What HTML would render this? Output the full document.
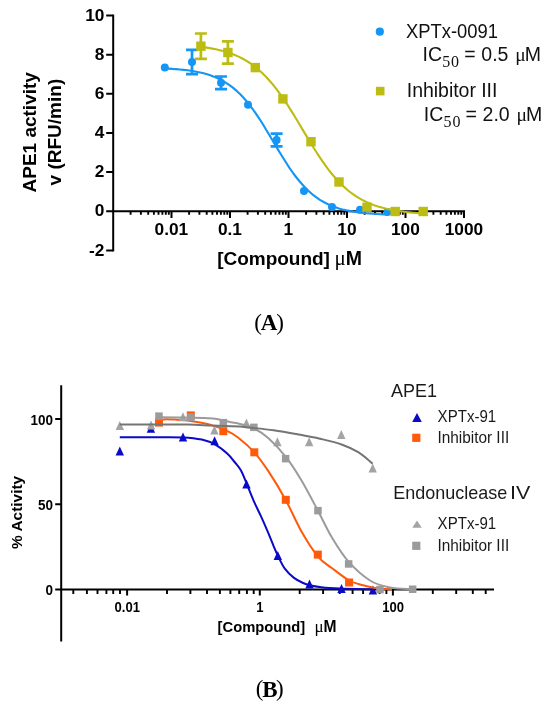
<!DOCTYPE html>
<html><head><meta charset="utf-8"><title>Figure</title>
<style>html,body{margin:0;padding:0;background:#fff}svg{display:block}</style>
</head><body>
<svg width="550" height="711" viewBox="0 0 550 711">
<rect width="550" height="711" fill="#fff"/>
<g stroke="#000" stroke-width="2" fill="none" stroke-linecap="butt">
<path d="M113.2 14.6 V251.4"/>
<path d="M112.2 211.2 H465"/>
<path d="M106.2 15.6 H113.2M106.2 54.7 H113.2M106.2 93.8 H113.2M106.2 133 H113.2M106.2 172.1 H113.2M106.2 211.2 H113.2M106.2 250.4 H113.2"/>
<path d="M171.5 211.2 V218.1M230 211.2 V218.1M288.5 211.2 V218.1M347 211.2 V218.1M405.5 211.2 V218.1M464 211.2 V218.1"/>
</g>
<path d="M130.6 211.2 V214.8M140.9 211.2 V214.8M148.2 211.2 V214.8M153.9 211.2 V214.8M158.5 211.2 V214.8M162.4 211.2 V214.8M165.8 211.2 V214.8M168.8 211.2 V214.8M189.1 211.2 V214.8M199.4 211.2 V214.8M206.7 211.2 V214.8M212.4 211.2 V214.8M217 211.2 V214.8M220.9 211.2 V214.8M224.3 211.2 V214.8M227.3 211.2 V214.8M247.6 211.2 V214.8M257.9 211.2 V214.8M265.2 211.2 V214.8M270.9 211.2 V214.8M275.5 211.2 V214.8M279.4 211.2 V214.8M282.8 211.2 V214.8M285.8 211.2 V214.8M306.1 211.2 V214.8M316.4 211.2 V214.8M323.7 211.2 V214.8M329.4 211.2 V214.8M334 211.2 V214.8M337.9 211.2 V214.8M341.3 211.2 V214.8M344.3 211.2 V214.8M364.6 211.2 V214.8M374.9 211.2 V214.8M382.2 211.2 V214.8M387.9 211.2 V214.8M392.5 211.2 V214.8M396.4 211.2 V214.8M399.8 211.2 V214.8M402.8 211.2 V214.8M423.1 211.2 V214.8M433.4 211.2 V214.8M440.7 211.2 V214.8M446.4 211.2 V214.8M451 211.2 V214.8M454.9 211.2 V214.8M458.3 211.2 V214.8M461.3 211.2 V214.8" stroke="#000" stroke-width="1.9" fill="none"/>
<g font-family="'Liberation Sans',Arial,sans-serif" font-weight="bold" font-size="17.3" fill="#000">
<text x="104.4" y="20.7" text-anchor="end">10</text>
<text x="104.4" y="59.8" text-anchor="end">8</text>
<text x="104.4" y="98.9" text-anchor="end">6</text>
<text x="104.4" y="138.1" text-anchor="end">4</text>
<text x="104.4" y="177.2" text-anchor="end">2</text>
<text x="104.4" y="216.3" text-anchor="end">0</text>
<text x="104.4" y="255.5" text-anchor="end">-2</text>
<text x="171.4" y="235.4" text-anchor="middle">0.01</text>
<text x="229.9" y="235.4" text-anchor="middle">0.1</text>
<text x="288.4" y="235.4" text-anchor="middle">1</text>
<text x="346.9" y="235.4" text-anchor="middle">10</text>
<text x="405.4" y="235.4" text-anchor="middle">100</text>
<text x="463.9" y="235.4" text-anchor="middle">1000</text>
</g>
<g font-family="'Liberation Sans',Arial,sans-serif" font-weight="bold" font-size="18.5" fill="#000">
<text x="217.3" y="265.2" font-size="19" textLength="112.6">[Compound]</text><text x="334.6" y="265.2" font-family="'Liberation Serif',serif" font-weight="normal" font-size="21">μ</text><text x="345.8" y="265.2" font-size="19.5">M</text>
</g>
<g font-family="'Liberation Sans',Arial,sans-serif" font-weight="bold" font-size="19" fill="#000" text-anchor="middle">
<text transform="translate(36.3 132.3) scale(1 1) rotate(-90)">APE1 activity</text>
<text transform="translate(61.1 132.1) scale(1 1) rotate(-90)">v (RFU/min)</text>
</g>
<path d="M164.8 68.5 L168.6 68.6 L172.4 68.9 L176.1 69.1 L179.9 69.5 L183.7 69.9 L187.5 70.3 L191.3 70.8 L195.1 71.5 L198.8 72.2 L202.6 73.1 L206.4 74.1 L210.2 75.3 L214 76.7 L217.8 78.3 L221.5 80.2 L225.3 82.3 L229.1 84.8 L232.9 87.6 L236.7 90.9 L240.5 94.5 L244.2 98.5 L248 103 L251.8 107.9 L255.6 113.2 L259.4 118.8 L263.2 124.8 L266.9 131 L270.7 137.3 L274.5 143.7 L278.3 150.1 L282.1 156.3 L285.9 162.3 L289.6 168.1 L293.4 173.5 L297.2 178.5 L301 183 L304.8 187.2 L308.6 190.9 L312.3 194.3 L316.1 197.2 L319.9 199.8 L323.7 202 L327.5 204 L331.3 205.7 L335 207.1 L338.8 208.4 L342.6 209.4 L346.4 210.3 L350.2 211.1 L354 211.8 L357.7 212.3 L361.5 212.8 L365.3 213.2 L369.1 213.5 L372.9 213.8 L376.7 214 L380.4 214.2 L384.2 214.4 L388 214.6" stroke="#1496f6" stroke-width="2.1" fill="none" stroke-linejoin="round"/>
<path d="M192 49.8V74.2M186 49.8H198M186 74.2H198" stroke="#1496f6" stroke-width="2.7" fill="none"/>
<path d="M221 76.5V89.1M215 76.5H227M215 89.1H227" stroke="#1496f6" stroke-width="2.7" fill="none"/>
<path d="M276.6 133.7V146.3M270.6 133.7H282.6M270.6 146.3H282.6" stroke="#1496f6" stroke-width="2.7" fill="none"/>
<circle cx="164.8" cy="67.6" r="4" fill="#1496f6"/>
<circle cx="192" cy="62" r="4" fill="#1496f6"/>
<circle cx="221" cy="82.8" r="4" fill="#1496f6"/>
<circle cx="248" cy="104.7" r="4" fill="#1496f6"/>
<circle cx="276.6" cy="140" r="4" fill="#1496f6"/>
<circle cx="304" cy="191" r="4" fill="#1496f6"/>
<circle cx="332" cy="207" r="4" fill="#1496f6"/>
<circle cx="360" cy="209.7" r="4" fill="#1496f6"/>
<circle cx="387.5" cy="212" r="4" fill="#1496f6"/>
<path d="M200.9 46.9 L204.7 47.4 L208.4 47.9 L212.2 48.6 L216 49.3 L219.7 50.2 L223.5 51.1 L227.3 52.3 L231 53.5 L234.8 55 L238.6 56.6 L242.3 58.5 L246.1 60.6 L249.9 63 L253.6 65.7 L257.4 68.7 L261.2 72 L265 75.7 L268.7 79.7 L272.5 84.1 L276.3 88.8 L280 93.9 L283.8 99.3 L287.6 105 L291.3 110.9 L295.1 117 L298.9 123.3 L302.6 129.6 L306.4 135.9 L310.2 142.2 L313.9 148.3 L317.7 154.2 L321.5 159.8 L325.2 165.2 L329 170.3 L332.8 175 L336.5 179.3 L340.3 183.3 L344.1 186.9 L347.8 190.2 L351.6 193.2 L355.4 195.8 L359.1 198.2 L362.9 200.3 L366.7 202.1 L370.5 203.8 L374.2 205.2 L378 206.5 L381.8 207.6 L385.5 208.5 L389.3 209.4 L393.1 210.1 L396.8 210.8 L400.6 211.3 L404.4 211.8 L408.1 212.2 L411.9 212.6 L415.7 212.9 L419.4 213.1 L423.2 213.4" stroke="#bcbc12" stroke-width="2.1" fill="none" stroke-linejoin="round"/>
<path d="M200.9 33.5V58.9M194.9 33.5H206.9M194.9 58.9H206.9" stroke="#bcbc12" stroke-width="2.7" fill="none"/>
<path d="M227.9 41.4V63.6M221.9 41.4H233.9M221.9 63.6H233.9" stroke="#bcbc12" stroke-width="2.7" fill="none"/>
<rect x="196.2" y="41.5" width="9.4" height="9.4" fill="#bcbc12"/>
<rect x="223.2" y="47.8" width="9.4" height="9.4" fill="#bcbc12"/>
<rect x="250.6" y="62.9" width="9.4" height="9.4" fill="#bcbc12"/>
<rect x="278.2" y="94.2" width="9.4" height="9.4" fill="#bcbc12"/>
<rect x="306.3" y="137" width="9.4" height="9.4" fill="#bcbc12"/>
<rect x="334.3" y="177.3" width="9.4" height="9.4" fill="#bcbc12"/>
<rect x="362.3" y="202.5" width="9.4" height="9.4" fill="#bcbc12"/>
<rect x="390.5" y="206.8" width="9.4" height="9.4" fill="#bcbc12"/>
<rect x="418.5" y="206.8" width="9.4" height="9.4" fill="#bcbc12"/>
<circle cx="379.8" cy="31.7" r="4.1" fill="#1496f6"/>
<rect x="375.9" y="86.8" width="8.6" height="8.6" fill="#bcbc12"/>
<g font-family="'Liberation Sans',Arial,sans-serif" font-size="19.5" fill="#111">
<text x="406" y="37.5" textLength="92" lengthAdjust="spacingAndGlyphs">XPTx-0091</text>
<text x="422.5" y="61">IC</text><text x="442.3" y="66.7" font-family="'Liberation Serif',serif" font-size="16" textLength="16.8">50</text><text x="464.2" y="61">=</text><text x="481.3" y="61">0.5</text><text x="515.3" y="61" font-family="'Liberation Serif',serif" font-size="19.5">μ</text><text x="524.8" y="61">M</text>
<text x="406.8" y="96.5" textLength="90.6">Inhibitor III</text>
<text x="423.8" y="121.4">IC</text><text x="443.6" y="127.1" font-family="'Liberation Serif',serif" font-size="16" textLength="16.8">50</text><text x="465.5" y="121.4">=</text><text x="482.6" y="121.4">2.0</text><text x="516.6" y="121.4" font-family="'Liberation Serif',serif" font-size="19.5">μ</text><text x="526.1" y="121.4">M</text>
</g>
<g font-family="'Liberation Serif',serif" font-size="21.5" fill="#000" text-anchor="middle">
<text x="258" y="329.6" font-size="23">(</text><text x="269" y="330" font-weight="bold" font-size="23">A</text><text x="280.2" y="329.6" font-size="23">)</text>
<text x="259.6" y="696.2" font-size="23">(</text><text x="269.8" y="696.6" font-weight="bold" font-size="23">B</text><text x="279.8" y="696.2" font-size="23">)</text>
</g>
<g stroke="#000" stroke-width="2" fill="none">
<path d="M61.2 385.3 V641.6"/>
<path d="M60.2 589.5 H494"/>
<path d="M55.2 589.5 H61.2M55.2 504.3 H61.2M55.2 419.1 H61.2M127.1 589.5 V595.5M259.8 589.5 V595.5M392.9 589.5 V595.5"/>
</g>
<path d="M73.3 589.5 V594M86.9 589.5 V594M97.5 589.5 V594M106.4 589.5 V594M113.2 589.5 V594M120 589.5 V594M167 589.5 V594M190.4 589.5 V594M207 589.5 V594M219.9 589.5 V594M230.4 589.5 V594M239.2 589.5 V594M246.9 589.5 V594M253.7 589.5 V594M299.7 589.5 V594M323.1 589.5 V594M339.7 589.5 V594M352.6 589.5 V594M363.1 589.5 V594M371.9 589.5 V594M379.6 589.5 V594M386.4 589.5 V594M432.8 589.5 V594M456.2 589.5 V594M472.8 589.5 V594M485.7 589.5 V594" stroke="#000" stroke-width="1.9" fill="none"/>
<g font-family="'Liberation Sans',Arial,sans-serif" font-weight="bold" font-size="15" fill="#000">
<text transform="translate(52.9 595.4) scale(0.9 1)" text-anchor="end">0</text>
<text transform="translate(52.9 510.2) scale(0.9 1)" text-anchor="end">50</text>
<text transform="translate(52.9 425) scale(0.9 1)" text-anchor="end">100</text>
<text transform="translate(127.3 611.6) scale(0.87 1)" text-anchor="middle">0.01</text>
<text transform="translate(260 611.6) scale(0.87 1)" text-anchor="middle">1</text>
<text transform="translate(393.1 611.6) scale(0.87 1)" text-anchor="middle">100</text>
<text x="217.6" y="632.2" font-size="15.4" textLength="87.6" lengthAdjust="spacingAndGlyphs">[Compound]</text><text x="314.6" y="632.2" font-family="'Liberation Serif',serif" font-weight="normal" font-size="17">μ</text><text x="323.5" y="632.2" font-size="15.6">M</text>
<text transform="translate(22.2 512.4) scale(0.93 1) rotate(-90)" text-anchor="middle" font-size="15.4">% Activity</text>
</g>
<path d="M119.8 446.5L124 455.5L115.6 455.5Z" fill="#0a0ac8"/>
<path d="M150.9 423.7L155.1 432.7L146.7 432.7Z" fill="#0a0ac8"/>
<path d="M183 432.5L187.2 441.5L178.8 441.5Z" fill="#0a0ac8"/>
<path d="M214.6 436.3L218.8 445.3L210.4 445.3Z" fill="#0a0ac8"/>
<path d="M246.5 479.5L250.7 488.5L242.3 488.5Z" fill="#0a0ac8"/>
<path d="M277.8 551.1L282 560.1L273.6 560.1Z" fill="#0a0ac8"/>
<path d="M309.5 579.5L313.7 588.5L305.3 588.5Z" fill="#0a0ac8"/>
<path d="M341.5 584L345.7 593L337.3 593Z" fill="#0a0ac8"/>
<path d="M372.9 585.5L377.1 594.5L368.7 594.5Z" fill="#0a0ac8"/>
<path d="M119.8 437.3 C124.8 437.3 139.5 437.3 150 437.3 C160.5 437.3 174.4 437 183 437.4 C191.6 437.8 196.4 438.4 201.8 439.6 C207.2 440.8 211.1 442.4 215.3 444.7 C219.5 447 223.9 450.6 227.2 453.6 C230.5 456.6 232.7 459.7 235 462.5 C237.3 465.3 238.9 466.7 241 470.5 C243.1 474.3 245.3 480.4 247.4 485.5 C249.5 490.6 251.6 496.1 253.8 501.1 C256 506.1 258.4 510.7 260.7 515.7 C263 520.7 265.3 526 267.5 531.2 C269.7 536.4 272.2 542.7 273.9 546.8 C275.6 550.9 276.1 552.2 277.9 555.9 C279.7 559.5 282.1 565 284.8 568.7 C287.5 572.4 290.9 575.5 294 577.9 C297.1 580.3 300.5 581.8 303.1 583 C305.7 584.2 306.4 584.5 309.5 585.2 C312.6 585.9 316.3 586.6 321.4 587.2 C326.5 587.8 331.6 588.2 340 588.6 C348.4 589 366.7 589.2 372 589.3" stroke="#0a0ac8" stroke-width="2" fill="none"/>
<rect x="155" y="418.6" width="8" height="8" fill="#ff5a0a"/>
<rect x="186.8" y="411.4" width="8" height="8" fill="#ff5a0a"/>
<rect x="219.3" y="427.2" width="8" height="8" fill="#ff5a0a"/>
<rect x="250.3" y="448.3" width="8" height="8" fill="#ff5a0a"/>
<rect x="281.8" y="495.8" width="8" height="8" fill="#ff5a0a"/>
<rect x="313.8" y="550.6" width="8" height="8" fill="#ff5a0a"/>
<rect x="345.1" y="578.5" width="8" height="8" fill="#ff5a0a"/>
<path d="M156 422.3 C157.3 421.8 160.4 419.8 163.6 419.4 C166.8 418.9 171.3 419.5 175 419.6 C178.7 419.7 181.3 419.7 185.5 420.2 C189.7 420.7 195.5 421.7 200 422.6 C204.5 423.5 208.4 424.3 212.7 425.6 C216.9 426.9 221.3 428.2 225.5 430.2 C229.7 432.2 233.2 433.8 238 437.5 C242.8 441.2 249.2 446.7 254.3 452.3 C259.4 457.9 263.2 463.4 268.5 471.4 C273.8 479.4 280.4 490.3 285.8 500.2 C291.2 510.1 295.9 521.5 301.2 530.9 C306.5 540.2 312.7 550.1 317.8 556.3 C322.9 562.5 326.6 564 331.8 568 C337 572 344.1 577.7 349.1 580.5 C354.1 583.3 357.7 583.8 362 585 C366.3 586.2 370 587.2 375 588 C380 588.8 389.2 589.3 392 589.6" stroke="#ff5a0a" stroke-width="2" fill="none"/>
<path d="M119.8 421.1L124 430.1L115.6 430.1Z" fill="#a4a4a4"/>
<path d="M151.1 420.4L155.3 429.4L146.9 429.4Z" fill="#a4a4a4"/>
<path d="M183 412.2L187.2 421.2L178.8 421.2Z" fill="#a4a4a4"/>
<path d="M214.4 425.5L218.6 434.5L210.2 434.5Z" fill="#a4a4a4"/>
<path d="M246.4 418.5L250.6 427.5L242.2 427.5Z" fill="#a4a4a4"/>
<path d="M277.4 437.2L281.6 446.2L273.2 446.2Z" fill="#a4a4a4"/>
<path d="M309.2 437.2L313.4 446.2L305 446.2Z" fill="#a4a4a4"/>
<path d="M341.3 429.9L345.5 438.9L337.1 438.9Z" fill="#a4a4a4"/>
<path d="M372.7 463.5L376.9 472.5L368.5 472.5Z" fill="#a4a4a4"/>
<path d="M159 417.2 C164.9 417.3 185.6 417.6 194.5 417.8 C203.4 418 208.4 418.3 212.7 418.6 C216.9 418.9 216.9 419.2 220 419.8 C223.1 420.4 227.7 421.5 231 422.2 C234.3 422.9 236.2 423 240 424 C243.8 425 249.1 425.8 253.8 428.2 C258.6 430.6 263.2 433.6 268.5 438.3 C273.8 443.1 280.2 449.8 285.6 456.7 C291.1 463.6 295.8 471 301.2 480 C306.6 489 312.7 500.9 317.8 510.5 C322.9 520 326.7 528.8 331.8 537.3 C336.9 545.8 341.9 554.2 348.3 561.4 C354.7 568.6 363.1 576.1 370 580.5 C376.9 584.9 382.9 586 390 587.5 C397.1 589 408.9 588.9 412.7 589.2" stroke="#9b9b9d" stroke-width="2" fill="none"/>
<rect x="155.2" y="412.4" width="7.5" height="7.5" fill="#9b9b9d"/>
<rect x="187.1" y="413.4" width="7.5" height="7.5" fill="#9b9b9d"/>
<rect x="219.6" y="418.9" width="7.5" height="7.5" fill="#9b9b9d"/>
<rect x="250.1" y="423.6" width="7.5" height="7.5" fill="#9b9b9d"/>
<rect x="281.9" y="454.9" width="7.5" height="7.5" fill="#9b9b9d"/>
<rect x="314.2" y="506.9" width="7.5" height="7.5" fill="#9b9b9d"/>
<rect x="344.9" y="560.2" width="7.5" height="7.5" fill="#9b9b9d"/>
<rect x="376.2" y="585.8" width="7.5" height="7.5" fill="#9b9b9d"/>
<rect x="408.9" y="585.5" width="7.5" height="7.5" fill="#9b9b9d"/>
<path d="M119.8 424.4 C126.5 424.4 148.6 424.4 160 424.4 C171.4 424.4 179.2 424.4 188 424.6 C196.8 424.8 204 425.2 212.7 425.5 C221.4 425.8 234.1 426.3 240 426.6 C245.9 426.9 242.4 426.9 248 427.5 C253.6 428.1 265.1 429 273.6 430.2 C282.1 431.4 291.3 433.1 299 434.5 C306.7 435.9 312.9 437 320 438.7 C327.1 440.4 335.2 442.2 341.6 444.5 C348 446.8 353 449 358.2 452.2 C363.4 455.4 370.3 461.7 372.7 463.6" stroke="#747474" stroke-width="2" fill="none"/>
<g font-family="'Liberation Sans',Arial,sans-serif" fill="#1a1a1a">
<text x="391" y="397.4" font-size="19" textLength="46" lengthAdjust="spacingAndGlyphs">APE1</text>
<text x="393.3" y="498.9" font-size="19" textLength="114" lengthAdjust="spacingAndGlyphs">Endonuclease</text><text x="510" y="498.9" font-size="19" textLength="20.3" lengthAdjust="spacingAndGlyphs">IV</text>
<g font-size="16.3">
<text x="437.6" y="422.1" textLength="58.6" lengthAdjust="spacingAndGlyphs">XPTx-91</text>
<text x="437.4" y="442.8" textLength="71.8" lengthAdjust="spacingAndGlyphs">Inhibitor III</text>
<text x="437.6" y="528.9" textLength="58.6" lengthAdjust="spacingAndGlyphs">XPTx-91</text>
<text x="437.4" y="550.8" textLength="71.8" lengthAdjust="spacingAndGlyphs">Inhibitor III</text>
</g></g>
<path d="M417 413.1L421.8 421.9L412.2 421.9Z" fill="#0a0ac8"/>
<rect x="412.2" y="433.7" width="8.2" height="8.2" fill="#ff5a0a"/>
<path d="M417 520.4L421.7 527.8L412.3 527.8Z" fill="#a4a4a4"/>
<rect x="412.2" y="541.7" width="8.2" height="8.2" fill="#9b9b9d"/>
</svg>
</body></html>
